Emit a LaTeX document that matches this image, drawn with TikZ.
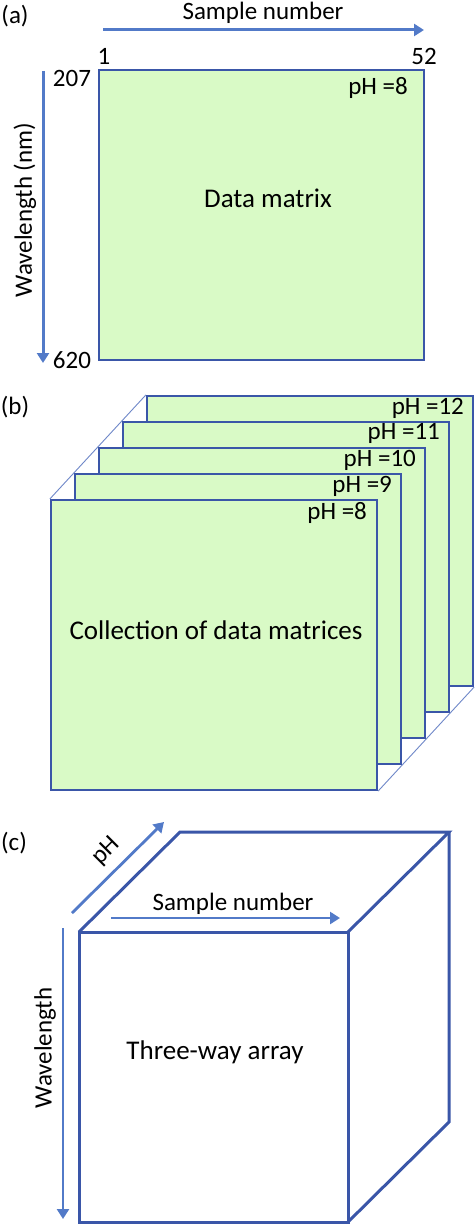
\documentclass[tikz,border=0pt]{standalone}
\usepackage{fontspec}
\setmainfont{Carlito}
\usetikzlibrary{arrows.meta,positioning,calc}
\definecolor{arrowblue}{RGB}{82,122,200}
\definecolor{lineblue}{RGB}{58,86,168}
\definecolor{thinblue}{RGB}{110,135,200}
\definecolor{matgreen}{RGB}{217,250,198}
\tikzset{
  lbl/.style={font=\fontsize{25}{30}\selectfont, inner sep=0pt},
  biglbl/.style={font=\fontsize{27}{32}\selectfont, inner sep=0pt},
  axarrow/.style={draw=arrowblue, line width=3pt, -{Triangle[length=10pt,width=12pt]}},
  matbox/.style={draw=lineblue, fill=matgreen, inner sep=0pt, minimum width=326pt, minimum height=290pt},
  cubeline/.style={draw=lineblue, line width=3pt, line join=miter},
  thinline/.style={draw=thinblue, line width=0.9pt},
}
\begin{document}
\begin{tikzpicture}[x=1pt,y=-1pt]
\useasboundingbox (0,0) rectangle (474,1225);
% ---------- (a) ----------
\node[lbl] (la) at (15,16) {(a)};
\node[matbox, line width=1.6pt, minimum width=325pt] (A) at (261.5,215) {};
\node[biglbl] (adata) at (268,198) {Data matrix};
\node[lbl, anchor=east] (aph) at (408,88) {pH =8};
\coordinate (asn1) at (103,30);
\coordinate (asn2) at (424,30);
\draw[axarrow] (asn1) -- (asn2);
\node[lbl] (asn) at (263,13) {Sample number};
\node[lbl] (a1) at (104,56) {1};
\node[lbl] (a52) at (424,56) {52};
\node[lbl] (a207) at (72,78) {207};
\node[lbl] (a620) at (72,360) {620};
\coordinate (awl1) at (43,71);
\coordinate (awl2) at (43,363);
\draw[axarrow] (awl1) -- (awl2);
\node[lbl, rotate=90] (awl) at (25,210) {Wavelength (nm)};
% ---------- (b) ----------
\node[lbl] (lb) at (15,407) {(b)};
\coordinate (b0) at (214,645);
\node[matbox, line width=2.2pt] (B4) at ($(b0)+(96,-104)$) {};
\node[matbox, line width=2.2pt] (B3) at ($(b0)+(72,-78)$) {};
\node[matbox, line width=2.2pt] (B2) at ($(b0)+(48,-52)$) {};
\node[matbox, line width=2.2pt] (B1) at ($(b0)+(24,-26)$) {};
\node[matbox, line width=2.2pt] (B0) at (b0) {};
\draw[thinline] (B0.north west) -- (B4.north west);
\draw[thinline] (B0.south east) -- (B4.south east);
\node[lbl, anchor=east] (bph12) at ($(B4.north east)+(-10,13)$) {pH =12};
\node[lbl, anchor=east] (bph11) at ($(B3.north east)+(-10,13)$) {pH =11};
\node[lbl, anchor=east] (bph10) at ($(B2.north east)+(-10,13)$) {pH =10};
\node[lbl, anchor=east] (bph9) at ($(B1.north east)+(-10,13)$) {pH =9};
\node[lbl, anchor=east] (bph8) at ($(B0.north east)+(-11,14)$) {pH =8};
\node[biglbl] (bcol) at (216,630) {Collection of data matrices};
% ---------- (c) ----------
\node[lbl] (lc) at (14,843) {(c)};
\coordinate (cftl) at (79,932);
\coordinate (cftr) at (348,932);
\coordinate (cfbr) at (348,1222);
\coordinate (cfbl) at (79,1222);
\coordinate (cbtl) at (180,832);
\coordinate (cbtr) at (449,832);
\coordinate (cbbr) at (449,1122);
\draw[cubeline] (cftl) -- (cftr) -- (cfbr) -- (cfbl) -- cycle;
\draw[cubeline] (cftl) -- (cbtl) -- (cbtr) -- (cftr);
\draw[cubeline] (cbtr) -- (cbbr) -- (cfbr);
\node[biglbl] (carr) at (215,1052) {Three-way array};
\coordinate (cph1) at (72,913);
\coordinate (cph2) at (164,822);
\draw[axarrow, line width=2.8pt] (cph1) -- (cph2);
\node[lbl, rotate=45] (cph) at (106,851) {pH};
\coordinate (csn1) at (111,918);
\coordinate (csn2) at (340,918);
\draw[axarrow, line width=2.8pt] (csn1) -- (csn2);
\node[lbl] (csn) at (233,904) {Sample number};
\coordinate (cwl1) at (63,928);
\coordinate (cwl2) at (63,1219);
\draw[axarrow, line width=2.8pt] (cwl1) -- (cwl2);
\node[lbl, rotate=90] (cwl) at (45,1048) {Wavelength};
\end{tikzpicture}
\end{document}
